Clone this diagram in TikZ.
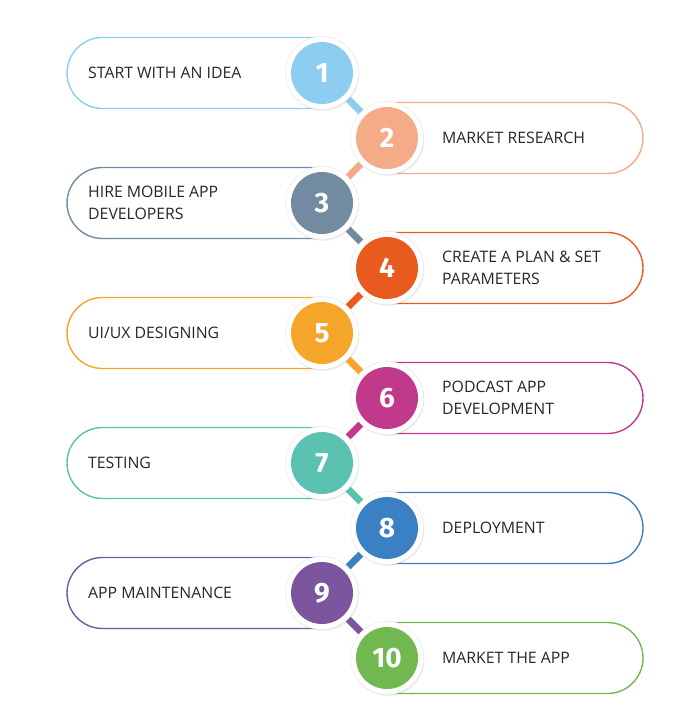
\documentclass[tikz,border=0pt]{standalone}
\usepackage{fontspec}
\setmainfont{Open Sans}
\newfontfamily\numfont{Fira Sans}
\usetikzlibrary{shadows,backgrounds}
\definecolor{c1}{HTML}{8DCDF0}
\definecolor{c2}{HTML}{F5AB88}
\definecolor{c3}{HTML}{738BA0}
\definecolor{c4}{HTML}{E85A1E}
\definecolor{c5}{HTML}{F5A52A}
\definecolor{c6}{HTML}{C0398A}
\definecolor{c7}{HTML}{5BC1B0}
\definecolor{c8}{HTML}{3B80C3}
\definecolor{c9}{HTML}{7B569F}
\definecolor{c10}{HTML}{72B850}
\tikzset{
 pill/.style={draw=#1, line width=1.4pt, rounded corners=35.5pt},
 neck/.style={draw=#1, line width=7pt},
 ring/.style={circle, fill=white, draw=black!8, line width=0.6pt, minimum size=73pt, inner sep=0pt,
   drop shadow={opacity=0.18, shadow xshift=0.8pt, shadow yshift=-1.2pt}},
 disc/.style={circle, fill=#1, minimum size=62pt, inner sep=0pt, text=white,
   font=\numfont\bfseries\fontsize{28}{28}\selectfont},
 lbl/.style={anchor=west, align=left, inner sep=0pt, text=black!85, font=\fontsize{15.8}{22}\selectfont},
}
\begin{document}
\begin{tikzpicture}[x=1pt,y=-1pt]
 \useasboundingbox (0,0) rectangle (700,727);
 \node[ring] (n1) at (322,73) {};
 \node[ring] (n2) at (387,138) {};
 \node[ring] (n3) at (322,203) {};
 \node[ring] (n4) at (387,268) {};
 \node[ring] (n5) at (322,333) {};
 \node[ring] (n6) at (387,398) {};
 \node[ring] (n7) at (322,463) {};
 \node[ring] (n8) at (387,528) {};
 \node[ring] (n9) at (322,593) {};
 \node[ring] (n10) at (387,658) {};
 \begin{scope}[on background layer]
 \draw[pill=c1] (322,37.5) -- (67,37.5) -- (67,108.5) -- (322,108.5);
 \draw[pill=c2] (387,102.5) -- (643,102.5) -- (643,173.5) -- (387,173.5);
 \draw[pill=c3] (322,167.5) -- (67,167.5) -- (67,238.5) -- (322,238.5);
 \draw[pill=c4] (387,232.5) -- (643,232.5) -- (643,303.5) -- (387,303.5);
 \draw[pill=c5] (322,297.5) -- (67,297.5) -- (67,368.5) -- (322,368.5);
 \draw[pill=c6] (387,362.5) -- (643,362.5) -- (643,433.5) -- (387,433.5);
 \draw[pill=c7] (322,427.5) -- (67,427.5) -- (67,498.5) -- (322,498.5);
 \draw[pill=c8] (387,492.5) -- (643,492.5) -- (643,563.5) -- (387,563.5);
 \draw[pill=c9] (322,557.5) -- (67,557.5) -- (67,628.5) -- (322,628.5);
 \draw[pill=c10] (387,622.5) -- (643,622.5) -- (643,693.5) -- (387,693.5);
 \draw[neck=c1] (n1) -- (n2);
 \draw[neck=c2] (n2) -- (n3);
 \draw[neck=c3] (n3) -- (n4);
 \draw[neck=c4] (n4) -- (n5);
 \draw[neck=c5] (n5) -- (n6);
 \draw[neck=c6] (n6) -- (n7);
 \draw[neck=c7] (n7) -- (n8);
 \draw[neck=c8] (n8) -- (n9);
 \draw[neck=c9] (n9) -- (n10);
 \end{scope}
 \node[disc=c1] (d1) at (n1) {1};
 \node[disc=c2] (d2) at (n2) {2};
 \node[disc=c3] (d3) at (n3) {3};
 \node[disc=c4] (d4) at (n4) {4};
 \node[disc=c5] (d5) at (n5) {5};
 \node[disc=c6] (d6) at (n6) {6};
 \node[disc=c7] (d7) at (n7) {7};
 \node[disc=c8] (d8) at (n8) {8};
 \node[disc=c9] (d9) at (n9) {9};
 \node[disc=c10] (d10) at (n10) {10};
 \node[lbl] (t1) at (88,73) {START WITH AN IDEA};
 \node[lbl] (t2) at (442,138) {MARKET RESEARCH};
 \node[lbl] (t3) at (88,203) {HIRE MOBILE APP\\DEVELOPERS};
 \node[lbl] (t4) at (442,268) {CREATE A PLAN \& SET\\PARAMETERS};
 \node[lbl] (t5) at (88,333) {UI/UX DESIGNING};
 \node[lbl] (t6) at (442,398) {PODCAST APP\\DEVELOPMENT};
 \node[lbl] (t7) at (88,463) {TESTING};
 \node[lbl] (t8) at (442,528) {DEPLOYMENT};
 \node[lbl] (t9) at (88,593) {APP MAINTENANCE};
 \node[lbl] (t10) at (442,658) {MARKET THE APP};
\end{tikzpicture}
\end{document}
